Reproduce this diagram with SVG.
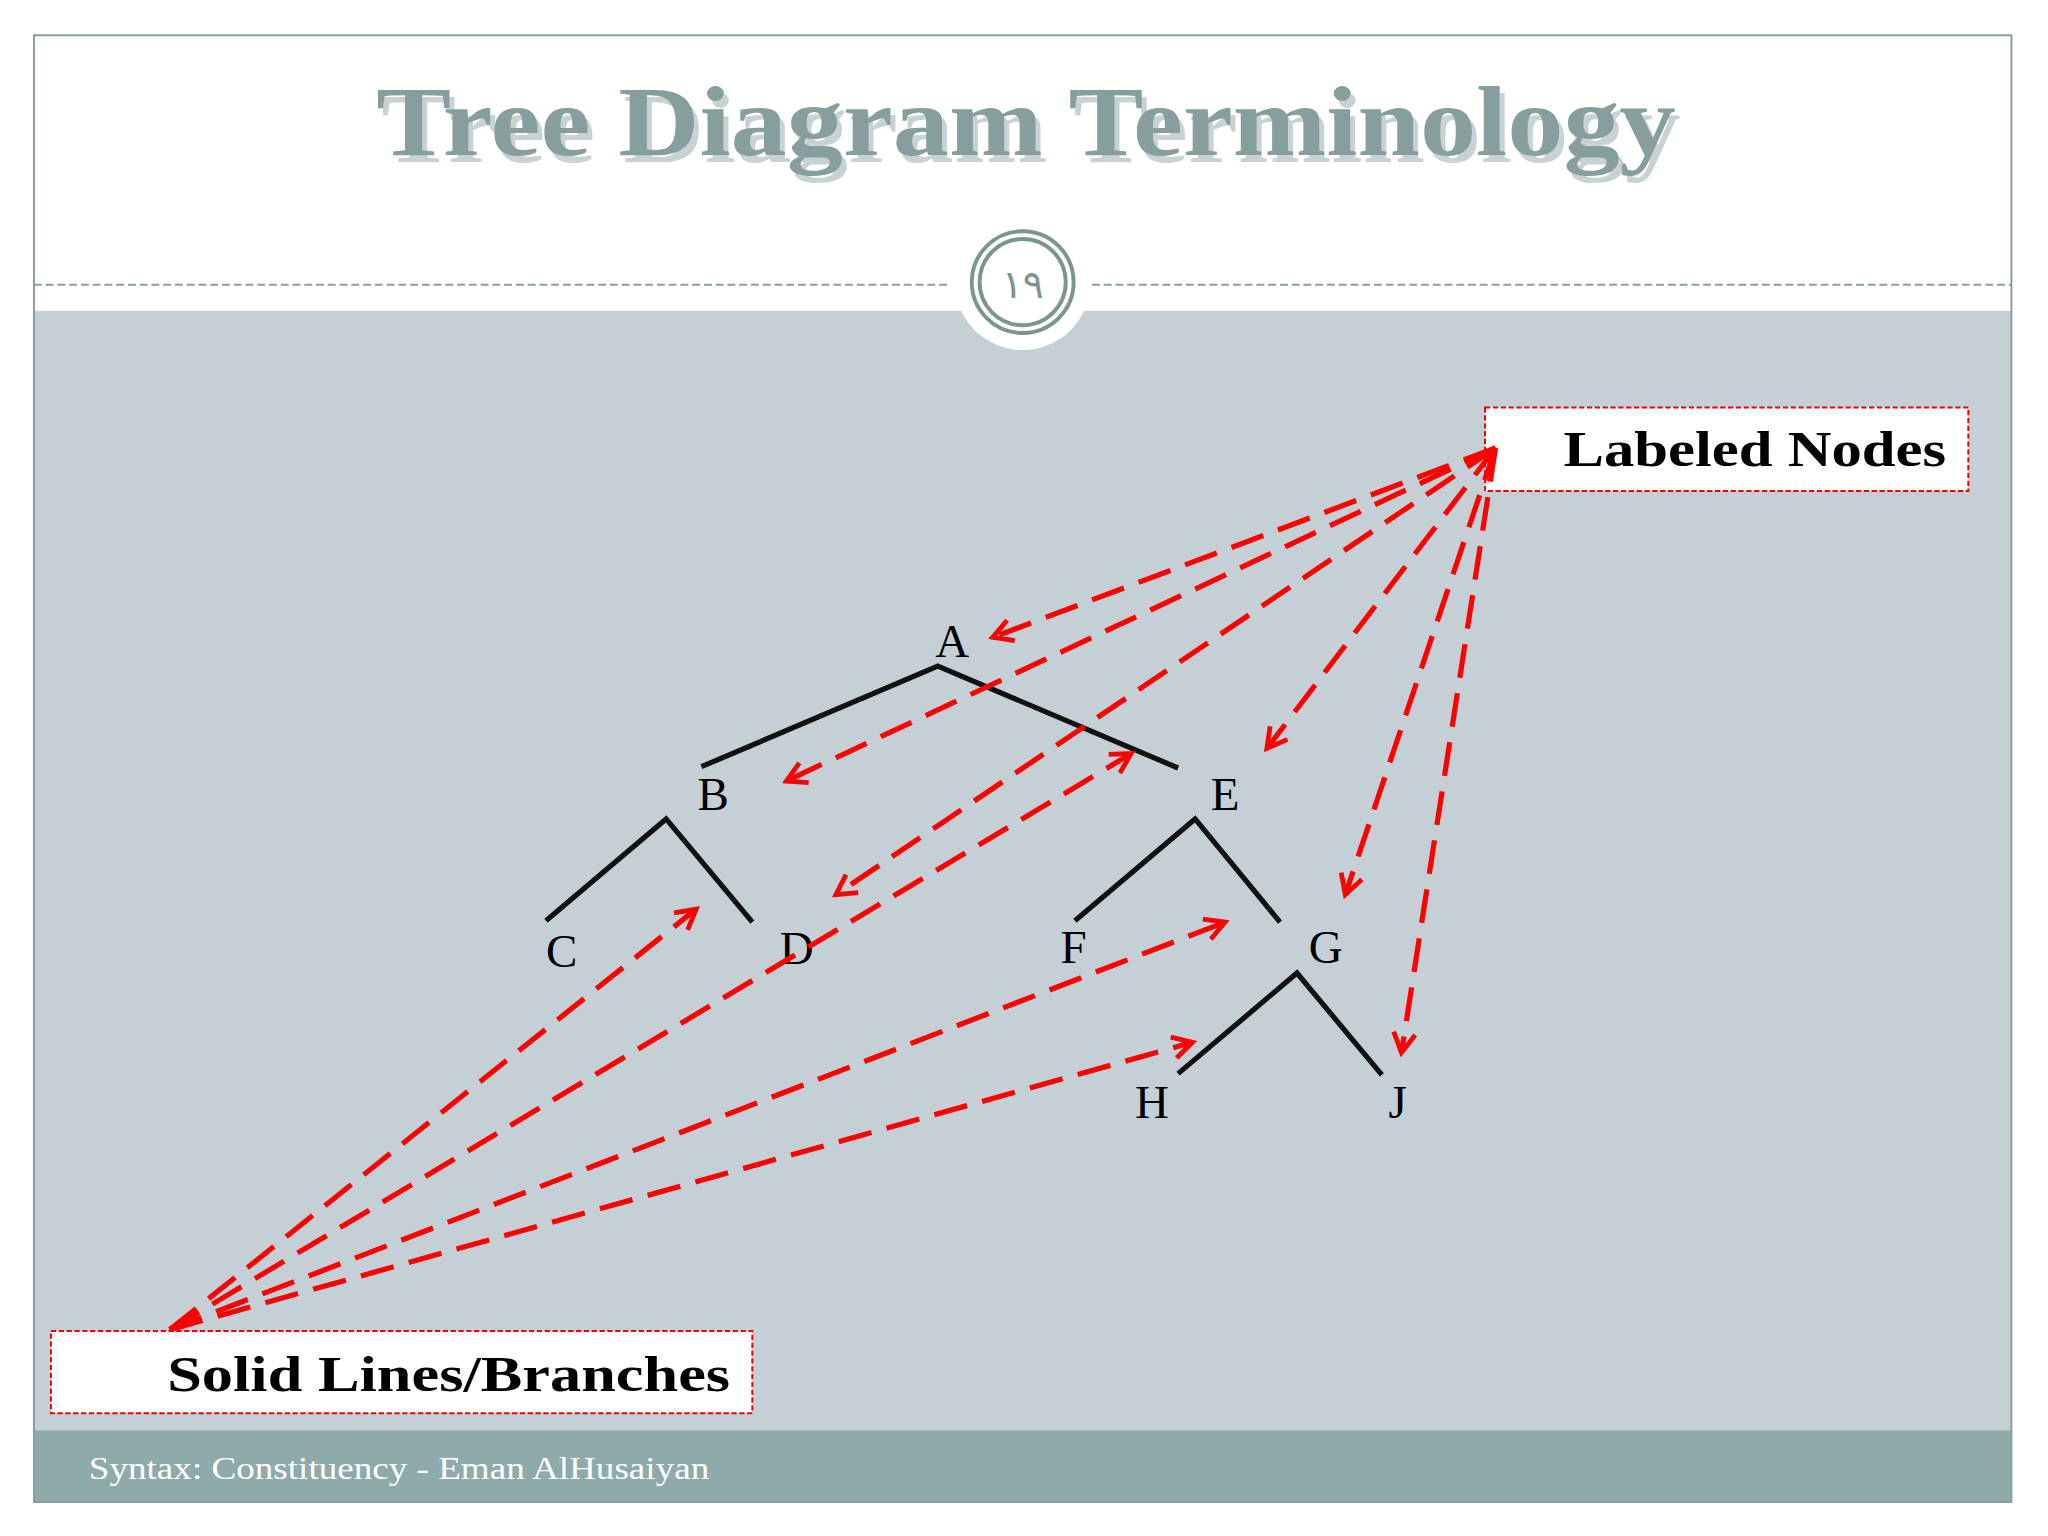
<svg xmlns="http://www.w3.org/2000/svg" width="2048" height="1536" viewBox="0 0 2048 1536">
<defs>
<style>
.lbl{font-family:"Liberation Serif",serif;font-size:36px;fill:#000;text-anchor:middle}
.br{stroke:#111;stroke-width:4;fill:none}
.ar{stroke:#f00;stroke-width:4;stroke-dasharray:26,12;fill:none;marker-end:url(#ah)}
.box{fill:#fff;stroke:#e00;stroke-width:1.5;stroke-dasharray:4,2}
.bt{font-family:"Liberation Serif",serif;font-weight:bold;font-size:38px;fill:#000}
</style>
<filter id="sh" x="-5%" y="-20%" width="110%" height="140%">
<feOffset in="SourceAlpha" dx="4" dy="5" result="o"/>
<feFlood flood-color="#c8d2d2"/>
<feComposite in2="o" operator="in" result="s"/>
<feMerge><feMergeNode in="s"/><feMergeNode in="SourceGraphic"/></feMerge>
</filter>
<marker id="ah" viewBox="0 0 12 12" refX="10" refY="6" markerWidth="5" markerHeight="5" orient="auto" markerUnits="strokeWidth">
<path d="M1,1 L10,6 L1,11" fill="none" stroke="#f00" stroke-width="2.2"/>
</marker>
</defs>
<rect width="2048" height="1536" fill="#fff"/>
<g transform="scale(1.30612)">
<g id="frame">
<rect x="26" y="238" width="1514" height="857" fill="#c5d0d6"/>
<rect x="26" y="1095" width="1514" height="55" fill="#8eaaaa"/>
<rect x="26" y="27" width="1514" height="1123" fill="none" stroke="#8a9e9e" stroke-width="1.5"/>
<line x1="26" y1="218" x2="728" y2="218" stroke="#8a9e9e" stroke-width="1.5" stroke-dasharray="6,3"/>
<line x1="836" y1="218" x2="1540" y2="218" stroke="#8a9e9e" stroke-width="1.5" stroke-dasharray="6,3"/>
<circle cx="783" cy="216" r="52" fill="#fff"/>
<circle cx="783" cy="216" r="39" fill="none" stroke="#7a968e" stroke-width="3"/>
<circle cx="783" cy="216" r="33" fill="none" stroke="#7a968e" stroke-width="3"/>
<text x="783" y="228" font-family="DejaVu Sans,sans-serif" font-size="30" fill="#7a968e" text-anchor="middle">١٩</text>
<text x="288" y="119" textLength="995" lengthAdjust="spacingAndGlyphs" font-family="Liberation Serif,serif" font-weight="bold" font-size="76" fill="#869e9e" filter="url(#sh)">Tree Diagram Terminology</text>
<text x="68" y="1132" textLength="475" lengthAdjust="spacingAndGlyphs" font-family="Liberation Serif,serif" font-size="24" fill="#fff">Syntax: Constituency - Eman AlHusaiyan</text>
</g>
<g id="tree">
<path class="br" d="M537,587 L718,510 L902,588 M418,705 L510,627 L576,706 M823,705 L915,627 L980,706 M902,822 L993,745 L1058,823"/>
</g>
<g id="nA"><text class="lbl" x="729" y="503">A</text></g>
<g id="nB"><text class="lbl" x="546" y="620">B</text></g>
<g id="nC"><text class="lbl" x="430" y="740">C</text></g>
<g id="nD"><text class="lbl" x="610" y="738">D</text></g>
<g id="nE"><text class="lbl" x="938" y="620">E</text></g>
<g id="nF"><text class="lbl" x="822" y="737">F</text></g>
<g id="nG"><text class="lbl" x="1015" y="737">G</text></g>
<g id="nH"><text class="lbl" x="882" y="856">H</text></g>
<g id="nJ"><text class="lbl" x="1070" y="856">J</text></g>
<g id="labeled"><rect class="box" x="1137" y="312" width="370" height="64"/><text class="bt" x="1197" y="357" textLength="293" lengthAdjust="spacingAndGlyphs">Labeled Nodes</text></g>
<g id="solid"><rect class="box" x="39" y="1019" width="537" height="63"/><text class="bt" x="128" y="1065" textLength="431" lengthAdjust="spacingAndGlyphs">Solid Lines/Branches</text></g>
<g id="connectors">
<path class="ar" d="M1145,343 L760,488"/>
<path class="ar" d="M1145,343 L602,598"/>
<path class="ar" d="M1145,343 L640,685"/>
<path class="ar" d="M1145,343 L970,573"/>
<path class="ar" d="M1145,343 L1030,685"/>
<path class="ar" d="M1145,343 L1073,806"/>
<path class="ar" d="M130,1018 L533,696"/>
<path class="ar" d="M130,1018 L866,577"/>
<path class="ar" d="M130,1018 L938,706"/>
<path class="ar" d="M130,1018 L913,798"/>
</g>
</g>
</svg>
